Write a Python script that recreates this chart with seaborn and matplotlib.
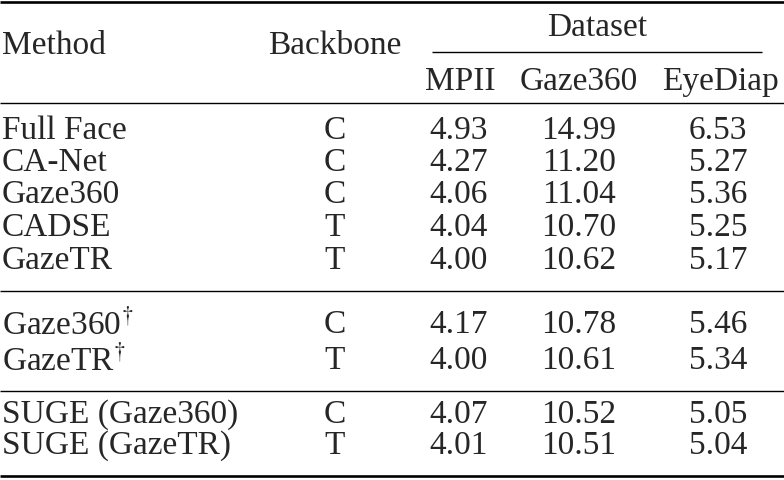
import matplotlib
matplotlib.use("Agg")
import matplotlib.pyplot as plt
import seaborn as sns

sns.set_theme(style="white")
plt.rcParams['font.family'] = ['Liberation Serif', 'DejaVu Serif']
plt.rcParams['mathtext.fontset'] = 'stix'

methods = ["Full Face", "CA-Net", "Gaze360", "CADSE", "GazeTR",
           "Gaze360$^{\\dagger}$", "GazeTR$^{\\dagger}$",
           "SUGE (Gaze360)", "SUGE (GazeTR)"]
backbones = ["C", "C", "C", "T", "T", "C", "T", "C", "T"]
mpii = ["4.93", "4.27", "4.06", "4.04", "4.00", "4.17", "4.00", "4.07", "4.01"]
gaze360 = ["14.99", "11.20", "11.04", "10.70", "10.62", "10.78", "10.61", "10.52", "10.51"]
eyediap = ["6.53", "5.27", "5.36", "5.25", "5.17", "5.46", "5.34", "5.05", "5.04"]
datasets = ["MPII", "Gaze360", "EyeDiap"]

row_y = [131, 163, 195, 228, 261, 325, 361, 415, 446]
col_x = [335, 459, 579, 718]
fs = 24

fig = plt.figure(figsize=(7.84, 4.81), dpi=100)
ax = fig.add_axes([0, 0, 1, 1])
ax.set_xlim(0, 784); ax.set_ylim(481, 0); ax.axis("off")

def hline(y, x0=0, x1=784, lw=1.0):
    ax.plot([x0, x1], [y, y], color="black", lw=lw, solid_capstyle="butt")

hline(2.5, lw=1.9)
hline(104)
hline(292)
hline(392)
hline(477, lw=1.9)
hline(53, 432, 762)

ax.text(2, 46, "Method", fontsize=fs, va="center", ha="left")
ax.text(col_x[0], 46, "Backbone", fontsize=fs, va="center", ha="center")
ax.text(597, 28, "Dataset", fontsize=fs, va="center", ha="center")
for x, d in zip([460, 579, 720], datasets):
    ax.text(x, 82, d, fontsize=fs, va="center", ha="center")

for i, y in enumerate(row_y):
    ax.text(2, y, methods[i], fontsize=fs, va="center", ha="left")
    for x, v in zip(col_x, [backbones[i], mpii[i], gaze360[i], eyediap[i]]):
        ax.text(x, y, v, fontsize=fs, va="center", ha="center")

fig.savefig("out.png", dpi=100)
